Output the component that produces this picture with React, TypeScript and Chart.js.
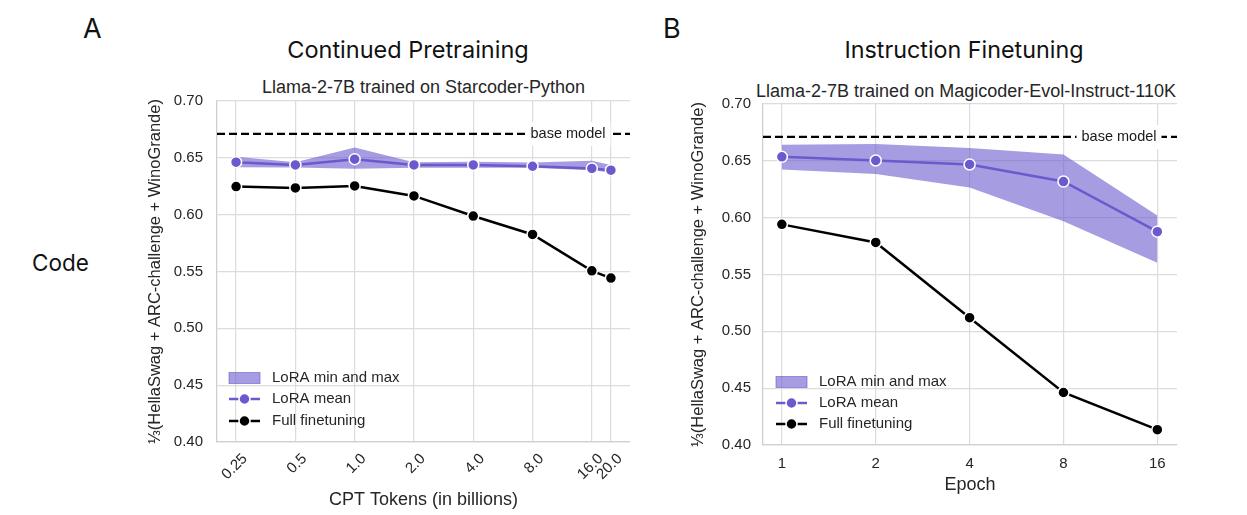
import React, { useEffect, useRef } from "react";
import { Chart, registerables } from "chart.js";

Chart.register(...registerables);

// ---------- DATA ----------
const cptTokens = [0.25, 0.5, 1, 2, 4, 8, 16, 20];
const cptTickLabels = ["0.25", "0.5", "1.0", "2.0", "4.0", "8.0", "16.0", "20.0"];
const cptLoraMean = [0.6462, 0.6438, 0.6488, 0.6438, 0.6438, 0.6426, 0.6407, 0.6391];
const cptLoraMin = [0.6418, 0.6415, 0.6405, 0.6412, 0.6412, 0.6412, 0.639, 0.637];
const cptLoraMax = [0.651, 0.6462, 0.6592, 0.6462, 0.6465, 0.6458, 0.6475, 0.6436];
const cptFull = [0.6247, 0.6235, 0.6253, 0.6165, 0.5988, 0.5826, 0.5506, 0.5442];

const ftEpochs = [1, 2, 4, 8, 16];
const ftTickLabels = ["1", "2", "4", "8", "16"];
const ftLoraMean = [0.6535, 0.6503, 0.6468, 0.6318, 0.5877];
const ftLoraMin = [0.6424, 0.6385, 0.6265, 0.5968, 0.5603];
const ftLoraMax = [0.6641, 0.6647, 0.6612, 0.6556, 0.602];
const ftFull = [0.5941, 0.5782, 0.512, 0.4462, 0.4135];

const baseModelScore = 0.671;
const yTickValues = [0.4, 0.45, 0.5, 0.55, 0.6, 0.65, 0.7];
const legendLabels = ["LoRA min and max", "LoRA mean", "Full finetuning"];
const yAxisTitle = "⅓(HellaSwag + ARC-challenge + WinoGrande)";

// ---------- STYLE ----------
const PURPLE = "#6a5acd";
const BAND = "rgba(106,90,205,0.6)";
const GRID = "#dcdcdc";
const TEXT = "#262626";
const FONT = '"Liberation Sans", Arial, sans-serif';

const baseLinePlugin = {
  id: "baseLine",
  beforeDatasetsDraw(chart: any, _args: any, opts: any) {
    const { ctx, chartArea: a, scales } = chart;
    const py = scales.y.getPixelForValue(opts.value);
    ctx.save();
    ctx.strokeStyle = "#000";
    ctx.lineWidth = 2.2;
    ctx.setLineDash([8, 4]);
    ctx.beginPath();
    ctx.moveTo(a.left, py);
    ctx.lineTo(a.right, py);
    ctx.stroke();
    ctx.setLineDash([]);
    ctx.font = `14.5px ${FONT}`;
    const w = ctx.measureText(opts.text).width;
    const cx = a.right - opts.offsetRight;
    ctx.fillStyle = "#fff";
    ctx.fillRect(cx - w / 2 - 5, py - 12, w + 10, 24);
    ctx.fillStyle = "#1a1a1a";
    ctx.textAlign = "center";
    ctx.textBaseline = "middle";
    ctx.fillText(opts.text, cx, py);
    ctx.restore();
  },
};

const legendPlugin = {
  id: "customLegend",
  afterDraw(chart: any, _args: any, opts: any) {
    const { ctx, chartArea: a } = chart;
    const x0 = a.left + opts.dx;
    const rows = opts.dy.map((d: number) => a.bottom - d);
    ctx.save();
    ctx.fillStyle = BAND;
    ctx.fillRect(x0, rows[0] - 5.5, 31, 11);
    ctx.strokeStyle = BAND;
    ctx.lineWidth = 1;
    ctx.strokeRect(x0, rows[0] - 5.5, 31, 11);
    const lines = [PURPLE, "#000"];
    lines.forEach((c, i) => {
      const r = rows[i + 1];
      ctx.strokeStyle = c;
      ctx.lineWidth = 2.5;
      ctx.beginPath();
      ctx.moveTo(x0, r);
      ctx.lineTo(x0 + 31, r);
      ctx.stroke();
      ctx.beginPath();
      ctx.arc(x0 + 15.5, r, 5.5, 0, Math.PI * 2);
      ctx.fillStyle = c;
      ctx.fill();
      ctx.strokeStyle = "#fff";
      ctx.lineWidth = 1.5;
      ctx.stroke();
    });
    ctx.font = `15px ${FONT}`;
    ctx.fillStyle = TEXT;
    ctx.textAlign = "left";
    ctx.textBaseline = "middle";
    legendLabels.forEach((t, i) => ctx.fillText(t, x0 + 43, rows[i]));
    ctx.restore();
  },
};

type PanelCfg = {
  xs: number[];
  xTickLabels: string[];
  mean: number[];
  lo: number[];
  hi: number[];
  full: number[];
  xMin: number;
  xMax: number;
  xTitle: string;
  width: number;
  height: number;
  padTop: number;
  padRight: number;
  yAxisWidth: number;
  xAxisHeight: number;
  xTitlePadBottom: number;
  yTitlePadTop: number;
  rotation: number;
  xTickPadding: number;
  labelOffset: number;
  yTickPadding: number;
  baseOffsetRight: number;
  legendDx: number;
  legendDy: number[];
};

function Panel({ cfg }: { cfg: PanelCfg }) {
  const ref = useRef<HTMLCanvasElement>(null);
  useEffect(() => {
    const pts = (ys: number[]) => cfg.xs.map((x, i) => ({ x, y: ys[i] }));
    const chart = new Chart(ref.current as HTMLCanvasElement, {
      type: "line",
      data: {
        datasets: [
          { label: "lo", data: pts(cfg.lo), borderWidth: 0, pointRadius: 0, fill: false, order: 3 },
          { label: "hi", data: pts(cfg.hi), borderWidth: 0, pointRadius: 0, fill: "-1", backgroundColor: BAND, order: 2 },
          {
            label: "LoRA mean",
            data: pts(cfg.mean),
            borderColor: PURPLE,
            borderWidth: 2.5,
            pointRadius: 5.5,
            pointBackgroundColor: PURPLE,
            pointBorderColor: "#fff",
            pointBorderWidth: 1.5,
            fill: false,
            order: 1,
          },
          {
            label: "Full finetuning",
            data: pts(cfg.full),
            borderColor: "#000",
            borderWidth: 2.5,
            pointRadius: 5.5,
            pointBackgroundColor: "#000",
            pointBorderColor: "#fff",
            pointBorderWidth: 1.5,
            fill: false,
            order: 0,
          },
        ],
      } as any,
      options: {
        animation: false,
        responsive: false,
        maintainAspectRatio: false,
        layout: { padding: { top: cfg.padTop, right: cfg.padRight, left: 0, bottom: 0 } },
        plugins: {
          legend: { display: false },
          tooltip: { enabled: false },
          baseLine: { value: baseModelScore, text: "base model", offsetRight: cfg.baseOffsetRight },
          customLegend: { dx: cfg.legendDx, dy: cfg.legendDy },
        } as any,
        scales: {
          x: {
            type: "logarithmic",
            min: cfg.xMin,
            max: cfg.xMax,
            afterBuildTicks: (s: any) => {
              s.ticks = cfg.xs.map((v) => ({ value: v }));
            },
            afterFit: (s: any) => {
              s.height = cfg.xAxisHeight;
            },
            ticks: {
              autoSkip: false,
              minRotation: cfg.rotation,
              maxRotation: cfg.rotation,
              padding: cfg.xTickPadding,
              labelOffset: cfg.labelOffset,
              color: TEXT,
              font: { family: FONT, size: 15 },
              callback: (_v: any, i: number) => cfg.xTickLabels[i],
            },
            grid: { color: GRID, lineWidth: 1.2, drawTicks: false },
            border: { color: "#cfcfcf", width: 1.3 },
            title: {
              display: true,
              text: cfg.xTitle,
              color: TEXT,
              font: { family: FONT, size: 18 },
              padding: { top: 0, bottom: cfg.xTitlePadBottom },
            },
          },
          y: {
            type: "linear",
            min: 0.4,
            max: 0.7,
            afterBuildTicks: (s: any) => {
              s.ticks = yTickValues.map((v) => ({ value: v }));
            },
            afterFit: (s: any) => {
              s.width = cfg.yAxisWidth;
            },
            ticks: {
              padding: cfg.yTickPadding,
              color: TEXT,
              font: { family: FONT, size: 15 },
              callback: (v: any) => Number(v).toFixed(2),
            },
            grid: { color: GRID, lineWidth: 1.2, drawTicks: false },
            border: { color: "#cfcfcf", width: 1.3 },
            title: {
              display: true,
              text: yAxisTitle,
              color: TEXT,
              font: { family: FONT, size: 16.5 },
              padding: { top: cfg.yTitlePadTop, bottom: 0 },
            },
          },
        },
      } as any,
      plugins: [baseLinePlugin, legendPlugin],
    });
    return () => chart.destroy();
  }, [cfg]);
  return <canvas ref={ref} width={cfg.width} height={cfg.height} style={{ display: "block" }} />;
}

const leftCfg: PanelCfg = {
  xs: cptTokens,
  xTickLabels: cptTickLabels,
  mean: cptLoraMean,
  lo: cptLoraMin,
  hi: cptLoraMax,
  full: cptFull,
  xMin: 0.2,
  xMax: 25,
  xTitle: "CPT Tokens (in billions)",
  width: 520,
  height: 459,
  padTop: 45,
  padRight: 30,
  yAxisWidth: 77,
  xAxisHeight: 73,
  xTitlePadBottom: 4,
  yTitlePadTop: 6,
  rotation: 45,
  xTickPadding: 8,
  labelOffset: 9,
  yTickPadding: 14,
  baseOffsetRight: 62,
  legendDx: 12,
  legendDy: [64, 43, 21],
};

const rightCfg: PanelCfg = {
  xs: ftEpochs,
  xTickLabels: ftTickLabels,
  mean: ftLoraMean,
  lo: ftLoraMin,
  hi: ftLoraMax,
  full: ftFull,
  xMin: 0.87,
  xMax: 18.5,
  xTitle: "Epoch",
  width: 520,
  height: 459,
  padTop: 48,
  padRight: 23,
  yAxisWidth: 83,
  xAxisHeight: 70,
  xTitlePadBottom: 19,
  yTitlePadTop: 9,
  rotation: 0,
  xTickPadding: 10,
  labelOffset: 0,
  yTickPadding: 12,
  baseOffsetRight: 58,
  legendDx: 13,
  legendDy: [63, 42, 21],
};

const titleFont = 'Inter, "Open Sans", sans-serif';

function Label(props: { text: string; left: number; top: number; size: number; center?: boolean; family?: string; color?: string }) {
  return (
    <div
      style={{
        position: "absolute",
        left: props.left,
        top: props.top,
        fontSize: props.size,
        lineHeight: 1,
        fontFamily: props.family || titleFont,
        color: props.color || "#111",
        whiteSpace: "nowrap",
        transform: props.center ? "translateX(-50%)" : undefined,
      }}
    >
      {props.text}
    </div>
  );
}

export default function App() {
  return (
    <div style={{ position: "absolute", left: 0, top: 0, width: 1247, height: 515, background: "#fff", overflow: "hidden" }}>
      <Label text="A" left={83} top={15} size={27} />
      <Label text="B" left={663} top={15} size={27} />
      <Label text="Continued Pretraining" left={408} top={38} size={23.5} center />
      <Label text="Instruction Finetuning" left={964} top={38} size={23.3} center />
      <Label text="Code" left={32} top={252} size={22.5} />
      <Label text="Llama-2-7B trained on Starcoder-Python" left={423.5} top={78} size={18} center family={FONT} color={TEXT} />
      <Label text="Llama-2-7B trained on Magicoder-Evol-Instruct-110K" left={966} top={82} size={18} center family={FONT} color={TEXT} />
      <div style={{ position: "absolute", left: 140, top: 56 }}>
        <Panel cfg={leftCfg} />
      </div>
      <div style={{ position: "absolute", left: 680, top: 56 }}>
        <Panel cfg={rightCfg} />
      </div>
    </div>
  );
}
